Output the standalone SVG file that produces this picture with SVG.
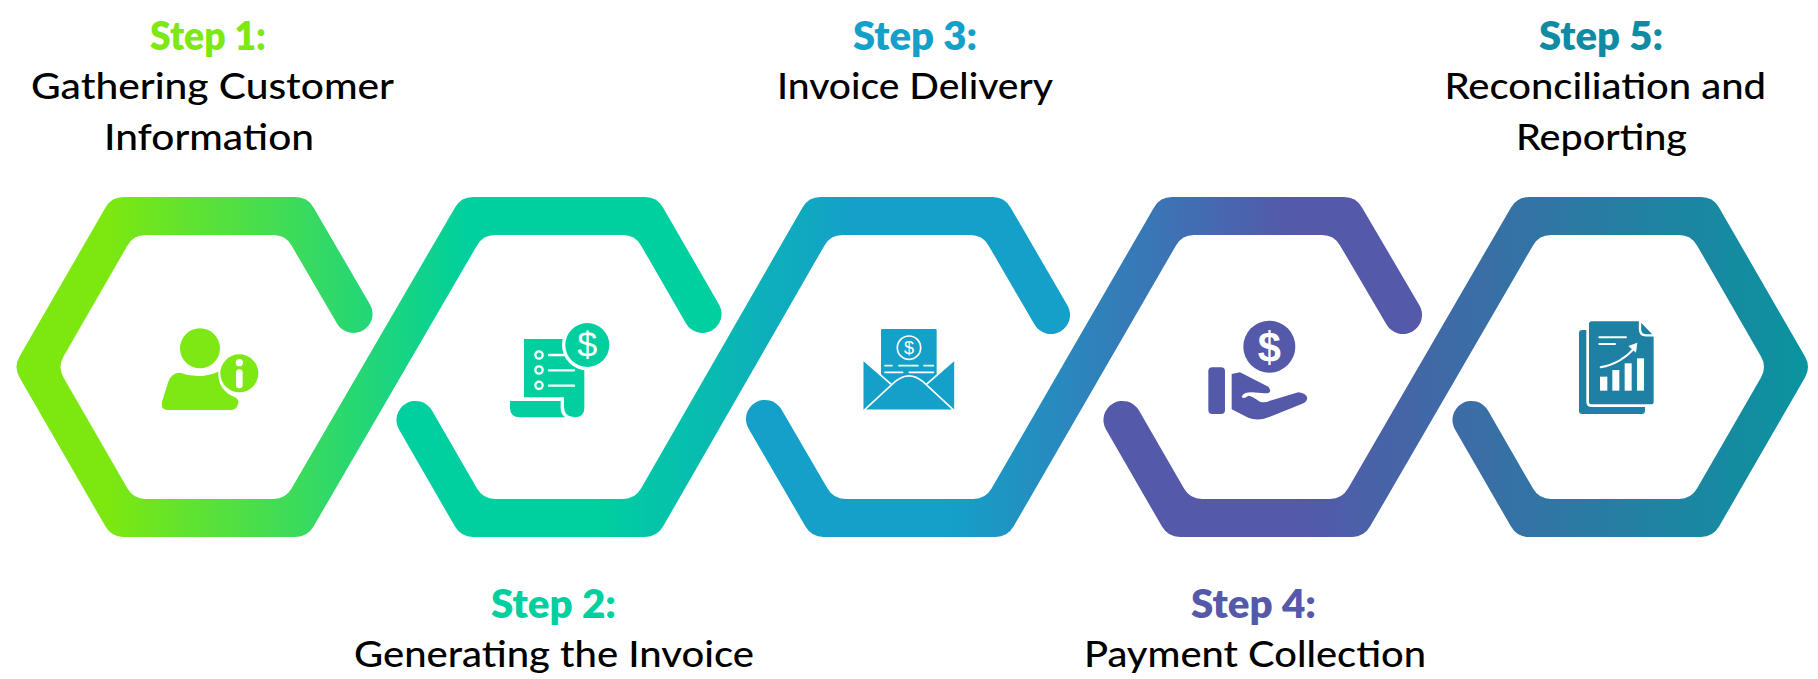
<svg xmlns="http://www.w3.org/2000/svg" width="1818" height="679" viewBox="0 0 1818 679">
<style>
.s{font-family:"Lato","Noto Sans",sans-serif;font-size:39px;font-weight:800}
.t{font-family:"Lato","Noto Sans",sans-serif;font-size:37px;font-weight:500;fill:#000}
.d{font-family:"Liberation Sans",sans-serif;fill:#fff;text-anchor:middle}
.w{fill:none;stroke:#fff;stroke-linecap:round}
.f{fill:#fff}
</style>
<defs>
<linearGradient id="ga" gradientUnits="userSpaceOnUse" x1="16" y1="0" x2="470" y2="0"><stop offset=".2" stop-color="#7de810"/><stop offset="1" stop-color="#00cf9f"/></linearGradient>
<linearGradient id="gb" gradientUnits="userSpaceOnUse" x1="600" y1="0" x2="850" y2="0"><stop offset="0" stop-color="#00cf9f"/><stop offset="1" stop-color="#14a0c8"/></linearGradient>
<linearGradient id="gc" gradientUnits="userSpaceOnUse" x1="950" y1="0" x2="1290" y2="0"><stop offset="0" stop-color="#14a0c8"/><stop offset="1" stop-color="#5459a9"/></linearGradient>
<linearGradient id="gd" gradientUnits="userSpaceOnUse" x1="1300" y1="0" x2="1810" y2="0"><stop offset="0" stop-color="#5459a9"/><stop offset="1" stop-color="#0a949f"/></linearGradient>
</defs>
<rect width="1818" height="679" fill="#fff"/>
<g id="connectors">
<path fill="url(#ga)" d="M370,304.5 L313.5,207.4 Q307.5,197 295.5,197 L123.5,197 Q111.5,197 105.5,207.4 L19.5,356.6 Q13.5,367 19.5,377.4 L105.5,526.6 Q111.5,537 123.5,537 L295.5,537 Q307.5,537 313.5,526.6 L477,245.4 Q483,235 495,235 L623,235 Q635,235 641,245.4 L686,323.5 A19,19 0 0 0 719,304.5 L663,207.4 Q657,197 645,197 L473,197 Q461,197 455,207.4 L291.5,488.6 Q285.5,499 273.5,499 L145.5,499 Q133.5,499 127.5,488.6 L63.5,377.4 Q57.5,367 63.5,356.6 L127.5,245.4 Q133.5,235 145.5,235 L273.5,235 Q285.5,235 291.5,245.4 L337,323.5 A19,19 0 0 0 370,304.5 Z"/>
<path fill="url(#gb)" d="M399,429.5 L455,526.6 Q461,537 473,537 L645,537 Q657,537 663,526.6 L824.5,245.4 Q830.5,235 842.5,235 L970.5,235 Q982.5,235 988.5,245.4 L1034.5,324.5 A19,19 0 0 0 1067.5,305.5 L1010.5,207.4 Q1004.5,197 992.5,197 L820.5,197 Q808.5,197 802.5,207.4 L641,488.6 Q635,499 623,499 L495,499 Q483,499 477,488.6 L432,410.5 A19,19 0 0 0 399,429.5 Z"/>
<path fill="url(#gc)" d="M748.5,428.5 L805.5,526.6 Q811.5,537 823.5,537 L995.5,537 Q1007.5,537 1013.5,526.6 L1176,245.4 Q1182,235 1194,235 L1322,235 Q1334,235 1340,245.4 L1386.5,324.5 A19,19 0 0 0 1419.5,305.5 L1362,207.4 Q1356,197 1344,197 L1172,197 Q1160,197 1154,207.4 L991.5,488.6 Q985.5,499 973.5,499 L845.5,499 Q833.5,499 827.5,488.6 L781.5,409.5 A19,19 0 0 0 748.5,428.5 Z"/>
<path fill="url(#gd)" d="M1106,429.5 L1162,526.6 Q1168,537 1180,537 L1352,537 Q1364,537 1370,526.6 L1533,245.4 Q1539,235 1551,235 L1679,235 Q1691,235 1697,245.4 L1761,356.6 Q1767,367 1761,377.4 L1697,488.6 Q1691,499 1679,499 L1551,499 Q1539,499 1533,488.6 L1488,410.5 A19,19 0 0 0 1455,429.5 L1511,526.6 Q1517,537 1529,537 L1701,537 Q1713,537 1719,526.6 L1805,377.4 Q1811,367 1805,356.6 L1719,207.4 Q1713,197 1701,197 L1529,197 Q1517,197 1511,207.4 L1348,488.6 Q1342,499 1330,499 L1202,499 Q1190,499 1184,488.6 L1139,410.5 A19,19 0 0 0 1106,429.5 Z"/>
</g>
<g id="step1">
<text class="s" x="150" y="50" fill="#7de814" textLength="116" lengthAdjust="spacingAndGlyphs">Step 1:</text>
<text class="t" x="31" y="99" textLength="363" lengthAdjust="spacingAndGlyphs">Gathering Customer</text>
<text class="t" x="104" y="150" textLength="210" lengthAdjust="spacingAndGlyphs">Information</text>
<g transform="translate(140 310) scale(.3333)" fill="#7de814">
<circle cx="180" cy="115" r="60"/>
<path d="M85,300 Q60,300 66,275 L85,215 Q95,188 120,188 Q175,210 235,185 Q232,240 285,262 Q300,270 293,285 Q290,300 270,300 Z"/>
<circle cx="298" cy="190" r="57"/>
<circle class="f" cx="298" cy="158" r="11"/>
<rect class="f" x="288" y="178" width="20" height="57" rx="10"/>
</g>
</g>
<g id="step2">
<text class="s" x="491" y="618" fill="#00cf9f" textLength="125" lengthAdjust="spacingAndGlyphs">Step 2:</text>
<text class="t" x="354" y="667" textLength="400" lengthAdjust="spacingAndGlyphs">Generating the Invoice</text>
<g transform="translate(490 310) scale(.3333)" fill="#02cf9f">
<path d="M102,87 L283,87 L283,295 Q283,322 253,322 Q222,320 222,290 L222,262 L102,262 Z"/>
<path d="M60,273 L212,273 L212,295 Q212,312 225,322 L90,322 Q60,322 60,295 Z"/>
<circle cx="292" cy="105" r="76" fill="#fff"/>
<circle cx="292" cy="105" r="66"/>
<text class="d" x="292" y="142" font-size="108">$</text>
<g class="w" stroke-width="7">
<circle cx="147" cy="135" r="11"/><circle cx="147" cy="180" r="11"/><circle cx="147" cy="226" r="11"/>
<path d="M177,135 H222 M177,181 H252 M177,227 H252"/>
</g>
</g>
</g>
<g id="step3">
<text class="s" x="853" y="50" fill="#14a0c8" textLength="124" lengthAdjust="spacingAndGlyphs">Step 3:</text>
<text class="t" x="777" y="99" textLength="276" lengthAdjust="spacingAndGlyphs">Invoice Delivery</text>
<g transform="translate(850 315) scale(.3333)" fill="#14a0c8">
<rect x="93" y="42" width="167" height="170" rx="3"/>
<path stroke="#fff" stroke-width="5" d="M38,133 L135,218 L218,218 L315,133 L315,289 L38,289 Z"/>
<path stroke="#fff" stroke-width="5" d="M42,286 L135,200 Q177,165 219,200 L312,286 Z"/>
<circle class="w" cx="177" cy="98" r="35" stroke-width="5"/>
<text class="d" x="177" y="117" font-size="54">$</text>
<path class="w" stroke-width="5" d="M105,152 H126 M147,152 H204 M222,152 H250 M105,172 H158 M178,172 H250"/>
</g>
</g>
<g id="step4">
<text class="s" x="1191" y="618" fill="#5459a9" textLength="125" lengthAdjust="spacingAndGlyphs">Step 4:</text>
<text class="t" x="1084" y="667" textLength="342" lengthAdjust="spacingAndGlyphs">Payment Collection</text>
<g transform="translate(1190 305) scale(.3333)" fill="#5459a9">
<circle cx="238" cy="125" r="78"/>
<text class="d" x="238" y="170" font-size="125" font-weight="700">$</text>
<rect x="55" y="187" width="50" height="140" rx="12"/>
<path d="M125,207 L150,202 L235,245 Q250,265 225,265 L185,262 Q160,262 155,275 Q160,285 175,272 Q185,272 210,290 Q225,295 240,287 L325,262 Q350,265 352,280 Q350,292 335,297 L240,335 Q205,350 175,338 L125,313 Z"/>
</g>
</g>
<g id="step5">
<text class="s" x="1539" y="50" fill="#0f8ba3" textLength="124" lengthAdjust="spacingAndGlyphs">Step 5:</text>
<text class="t" x="1444.5" y="99" textLength="321.5" lengthAdjust="spacingAndGlyphs">Reconciliation and</text>
<text class="t" x="1516" y="150" textLength="171" lengthAdjust="spacingAndGlyphs">Reporting</text>
<g transform="translate(1560 310) scale(.3333)" fill="#1e80a3">
<rect x="57" y="60" width="198" height="252" rx="10"/>
<path stroke="#fff" stroke-width="8" d="M95,30 L240,30 L285,78 L285,275 Q285,287 273,287 L95,287 Q83,287 83,275 L83,42 Q83,30 95,30 Z"/>
<path stroke="#fff" stroke-width="7" d="M240,30 L285,76 L258,76 Q240,76 240,58 Z"/>
<path class="w" stroke-width="6" d="M118,82 H198 M118,102 H165 M122,172 Q185,160 225,112"/>
<path class="f" d="M232,98 L228,128 L205,108 Z"/>
<rect class="f" x="120" y="200" width="22" height="42"/>
<rect class="f" x="157" y="180" width="21" height="62"/>
<rect class="f" x="194" y="160" width="21" height="82"/>
<rect class="f" x="231" y="145" width="21" height="97"/>
</g>
</g>
</svg>
